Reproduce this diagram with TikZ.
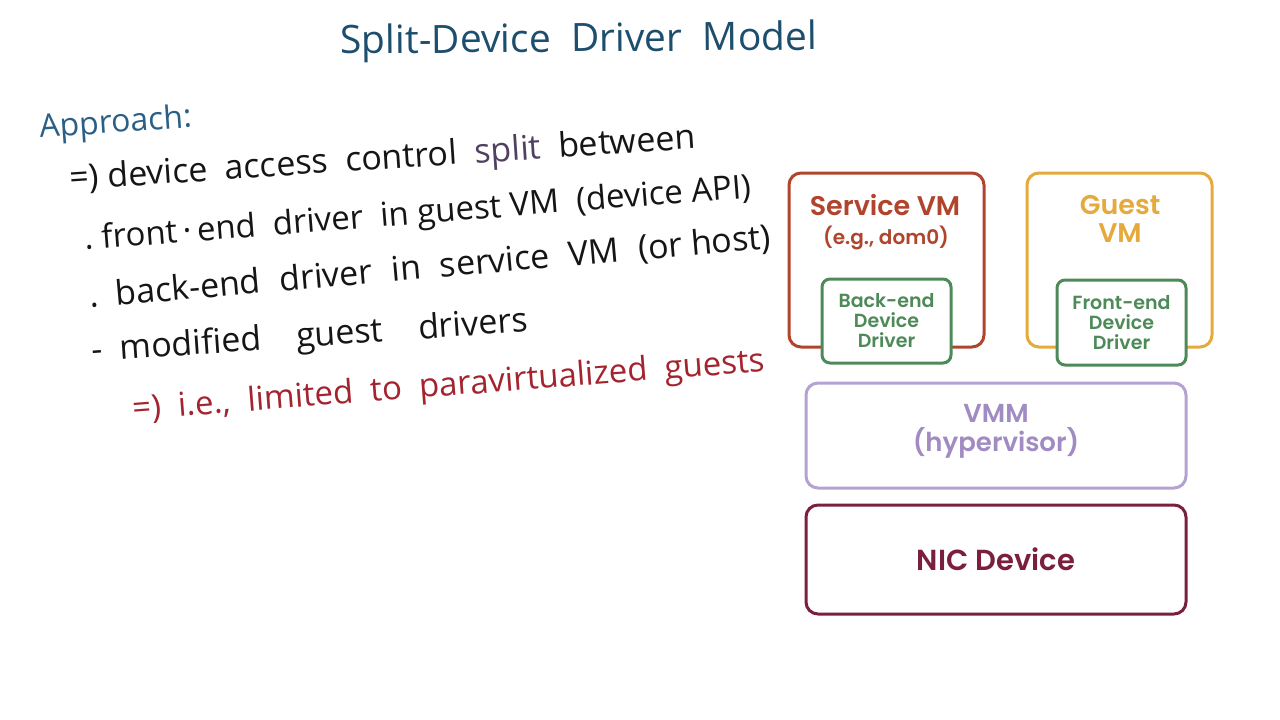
\documentclass[tikz,border=0pt]{standalone}
\usepackage{fontspec}
\setmainfont{Open Sans}
\newfontfamily\boxfont{Poppins}[BoldFont={Poppins SemiBold}]
\definecolor{titleblue}{HTML}{1D4E6E}
\definecolor{apprblue}{HTML}{2B5F86}
\definecolor{ink}{HTML}{151515}
\definecolor{splitpurple}{HTML}{51405F}
\definecolor{inkred}{HTML}{A3232E}
\definecolor{svcred}{HTML}{B0442C}
\definecolor{guestorange}{HTML}{E6A93C}
\definecolor{drvgreen}{HTML}{4D8A58}
\definecolor{vmmlav}{HTML}{B4A2D2}
\definecolor{vmmtext}{HTML}{A08CC2}
\definecolor{nicmaroon}{HTML}{7A1F3D}
\newcommand{\gp}{\hspace{19pt}}
\tikzset{
  hand/.style={anchor=base west, inner sep=0pt, font=\fontsize{34}{38}\selectfont},
  vmbox/.style={draw, line width=3pt, rounded corners=12pt, inner sep=0pt},
  drvbox/.style={draw=drvgreen, fill=white, line width=3pt, rounded corners=8pt, inner sep=0pt,
    minimum width=129pt, text=drvgreen, align=center,
    font=\boxfont\bfseries\fontsize{19}{20}\selectfont},
  lbl/.style={inner sep=0pt, align=center, font=\boxfont\bfseries\fontsize{27}{28}\selectfont}
}
\begin{document}
\begin{tikzpicture}[x=1pt,y=-1pt]
\useasboundingbox[fill=white] (0,0) rectangle (1280,720);
% handwritten text
\node[hand, text=titleblue, font=\fontsize{39}{42}\selectfont, rotate=0.5] (title) at (340,54) {Split-Device\ \ Driver\ \ Model};
\node[hand, text=apprblue, font=\fontsize{32}{36}\selectfont, rotate=4] (appr) at (40,138) {Approach:};
\node[hand, text=ink, rotate=3.8] (l1) at (70,190) {=)\ device\ \ access\ \ control\ \ \textcolor{splitpurple}{split}\ \ between};
\node[hand, text=ink, font=\fontsize{33}{38}\selectfont, rotate=4.5] (l2) at (85,250) {.\ front\,·\,end\ \ driver\ \ in guest VM\ \ (device API)};
\node[hand, text=ink, rotate=5] (l3) at (90,308) {.\ \ back-end\gp driver\gp in\gp service\gp VM\gp (or host)};
\node[hand, text=ink, rotate=4] (l4) at (92,362) {-\ \ modified\ \ \ \ guest\ \ \ \ drivers};
\node[hand, text=inkred, font=\fontsize{33}{38}\selectfont, rotate=4.4] (l5) at (133,420) {=)\ \ i.e.,\ \ limited\ \ to\ \ paravirtualized\ \ guests};
% diagram
\node[vmbox, draw=svcred, minimum width=195pt, minimum height=174pt] (svc) at (886.5,260) {};
\node[vmbox, draw=guestorange, minimum width=185pt, minimum height=174pt] (guest) at (1119.5,260) {};
\node[drvbox, minimum height=84pt] (back) at (886.5,321) {Back-end\\Device\\Driver};
\node[drvbox, minimum height=85pt] (front) at (1121.5,322.5) {Front-end\\Device\\Driver};
\node[lbl, text=svcred] (svclbl) at (885,205) {Service VM};
\node[lbl, text=svcred, font=\boxfont\bfseries\fontsize{20}{22}\selectfont] (svcsub) at (886,238) {(e.g., dom0)};
\node[lbl, text=guestorange] (guestlbl) at (1120,219) {Guest\\VM};
\node[vmbox, draw=vmmlav, minimum width=380pt, minimum height=105pt] (vmm) at (996,435.5) {};
\node[lbl, text=vmmtext, font=\boxfont\bfseries\fontsize{26}{29}\selectfont] (vmmlbl) at (996,431) {VMM\\(hypervisor)};
\node[vmbox, draw=nicmaroon, minimum width=380pt, minimum height=109pt, text=nicmaroon,
  font=\boxfont\bfseries\fontsize{29}{30}\selectfont] (nic) at (996,559.5) {NIC Device};
\end{tikzpicture}
\end{document}
